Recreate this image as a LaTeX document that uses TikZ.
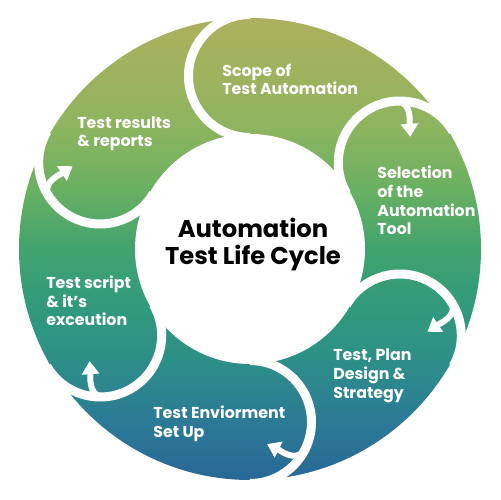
\documentclass[tikz,border=0pt]{standalone}
\usepackage{fontspec}
\setmainfont{Poppins}
\usetikzlibrary{arrows.meta}
\definecolor{ringA}{RGB}{40,104,150}
\definecolor{ringB}{RGB}{44,122,150}
\definecolor{ringC}{RGB}{45,143,136}
\definecolor{ringD}{RGB}{50,155,122}
\definecolor{ringE}{RGB}{65,163,110}
\definecolor{ringF}{RGB}{105,176,98}
\definecolor{ringG}{RGB}{140,180,95}
\definecolor{ringH}{RGB}{160,178,94}
\definecolor{ringI}{RGB}{172,176,94}
\pgfdeclareverticalshading{ringshade}{100bp}{color(0bp)=(ringA); color(25bp)=(ringA); color(31.5bp)=(ringB); color(38bp)=(ringC); color(44.5bp)=(ringD); color(50bp)=(ringE); color(56.4bp)=(ringF); color(62.9bp)=(ringG); color(69.4bp)=(ringH); color(75bp)=(ringI); color(100bp)=(ringI)}
\begin{document}
\begin{tikzpicture}[x=0.02cm,y=0.02cm,
	sepband/.style={white,line width=0.18cm},
	cyclearrow/.style={white,line width=0.12cm,-{Triangle[width=0.34cm,length=0.26cm]}},
	steplabel/.style={text=white,font=\fontsize{9}{10.8}\selectfont\bfseries,align=left,anchor=base west,inner sep=0pt}]
	\useasboundingbox (-250,-251) rectangle (250,249);
	\shade[shading=ringshade] (0,0) circle[radius=231];
	\fill[white] (0,0) circle[radius=115];
	\draw[sepband,shift={(90:173)}] (270:61.5) arc[start angle=270,end angle=90,radius=61.5];
	\draw[sepband,shift={(30:173)}] (210:61.5) arc[start angle=210,end angle=30,radius=61.5];
	\draw[sepband,shift={(-30:173)}] (150:61.5) arc[start angle=150,end angle=-30,radius=61.5];
	\draw[sepband,shift={(-90:173)}] (90:61.5) arc[start angle=90,end angle=-90,radius=61.5];
	\draw[sepband,shift={(-150:173)}] (30:61.5) arc[start angle=30,end angle=-150,radius=61.5];
	\draw[sepband,shift={(150:173)}] (330:61.5) arc[start angle=330,end angle=150,radius=61.5];
	\draw[cyclearrow,shift={(30:173)}] (92:61.5) to[out=-10,in=94] (67.7:27.8);
	\draw[cyclearrow,shift={(-30:173)}] (32:61.5) to[out=-70,in=34] (7.7:27.8);
	\draw[cyclearrow,shift={(-90:173)}] (-28:61.5) to[out=-130,in=-26] (-52.3:27.8);
	\draw[cyclearrow,shift={(-150:173)}] (-88:61.5) to[out=170,in=-86] (-112.3:27.8);
	\draw[cyclearrow,shift={(150:173)}] (212:61.5) to[out=110,in=214] (187.7:27.8);
	\node[steplabel] (scope) at (-28,154) {Scope of\\Test Automation};
	\node[steplabel] (select) at (127,14) {Selection\\of the\\Automation\\Tool};
	\node[steplabel] (plan) at (83,-149) {Test, Plan\\Design \&\\Strategy};
	\node[steplabel] (env) at (-97,-188) {Test Enviorment\\Set Up};
	\node[steplabel] (script) at (-204,-77) {Test script\\\& it’s\\exceution};
	\node[steplabel] (results) at (-173,102) {Test results\\\& reports};
	\node[font=\fontsize{13.8}{15.9}\selectfont\bfseries,align=center,anchor=base,inner sep=0pt] (title) at (3,-16) {Automation\\Test Life Cycle};
\end{tikzpicture}
\end{document}
